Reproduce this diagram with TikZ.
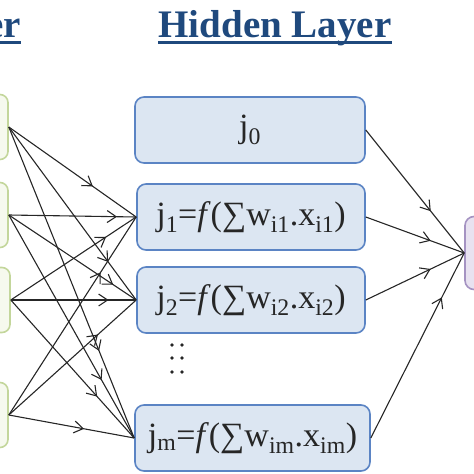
\documentclass[tikz,border=0pt]{standalone}
\usepackage{fontspec}
\setmainfont{Liberation Serif}
\usetikzlibrary{positioning, arrows.meta}
\usetikzlibrary{decorations.markings}

\definecolor{headblue}{HTML}{1F497D}
\definecolor{hidfill}{HTML}{DCE6F2}
\definecolor{hidline}{HTML}{5B84C4}
\definecolor{infill}{HTML}{F6F9EE}
\definecolor{inline}{HTML}{C3D69B}
\definecolor{outfill}{HTML}{E8E2F0}
\definecolor{outline}{HTML}{A593C2}
\definecolor{txt}{HTML}{262626}

\newcommand{\sumw}[1]{j\textsubscript{#1}=\textit{f}(∑w\textsubscript{i#1}.x\textsubscript{i#1})}

\tikzset{
    inbox/.style={draw=inline, fill=infill, line width=1.6pt, rounded corners=8pt,
        minimum width=70pt, minimum height=65pt},
    hidbox/.style={draw=hidline, fill=hidfill, line width=1.6pt, rounded corners=9pt,
        minimum height=66pt, text=txt, font=\fontsize{34}{36}\selectfont, inner sep=0pt},
    outbox/.style={draw=outline, fill=outfill, line width=1.6pt, rounded corners=9pt,
        minimum width=80pt, minimum height=73pt},
    head/.style={text=headblue, font=\fontsize{39}{42}\selectfont\bfseries, inner sep=0pt},
    headline/.style={draw=headblue, line width=3pt},
    link/.style={line width=1.1pt, black!85, postaction={decorate},
        decoration={markings, mark=at position #1 with {\arrow{Straight Barb[length=9pt,width=12pt]}}}},
    link/.default=0.75
}

\begin{document}
\begin{tikzpicture}[x=1pt, y=-1pt]
    \useasboundingbox (0,0) rectangle (474,474);
    \clip (0,0) rectangle (474,474);

    % titles
    \node[head, anchor=base east] (inhead) at (21,37) {Input Layer};
    \node[head, anchor=base] (hidhead) at (275,37) {Hidden Layer};
    \draw[headline] ([yshift=-5pt]inhead.base west) -- ([yshift=-5pt]inhead.base east);
    \draw[headline] ([yshift=-5pt]hidhead.base west) -- ([yshift=-5pt]hidhead.base east);

    % input layer
    \node[inbox] (in1) at (-27,127) {};
    \node[inbox] (in2) at (-27,215) {};
    \node[inbox] (in3) at (-25,300) {};
    \node[inbox] (in4) at (-27,415) {};

    % hidden layer
    \node[hidbox, minimum width=230pt] (h0) at (250,130) {j\textsubscript{0}};
    \node[hidbox, minimum width=228pt] (h1) at (251,217) {\sumw{1}};
    \node[hidbox, minimum width=228pt] (h2) at (251,300) {\sumw{2}};
    \node[hidbox, minimum width=235pt] (hm) at (252.5,438) {\sumw{m}};

    \foreach \y in {345,358,372}
    {
        \fill[txt] (172,\y) circle (1.9pt);
        \fill[txt] (182,\y) circle (1.9pt);
    };

    % output layer
    \node[outbox] (out) at (505,253) {};

    % input -> hidden
    \draw[link=0.66] (in1.east) -- (h1.west);
    \draw[link=0.78] (in1.east) -- (h2.west);
    \draw[link=0.72] (in1.east) -- (hm.west);
    \draw[link=0.85] (in2.east) -- (h1.west);
    \draw[link=0.82] (in2.east) -- (h2.west);
    \draw[link=0.74] (in2.east) -- (hm.west);
    \draw[link=0.76] (in3.east) -- (h1.west);
    \draw[link=0.78] (in3.east) -- (h2.west);
    \draw[link=0.70] (in3.east) -- (hm.west);
    \draw[link=0.72] (in4.east) -- (h1.west);
    \draw[link=0.70] (in4.east) -- (h2.west);
    \draw[link=0.60] (in4.east) -- (hm.west);

    % hidden -> output
    \foreach \h/\p in {h0/0.66, h1/0.66, h2/0.66, hm/0.76}
    {
        \draw[link=\p] (\h.east) -- (out.west);
    };
\end{tikzpicture}
\end{document}
